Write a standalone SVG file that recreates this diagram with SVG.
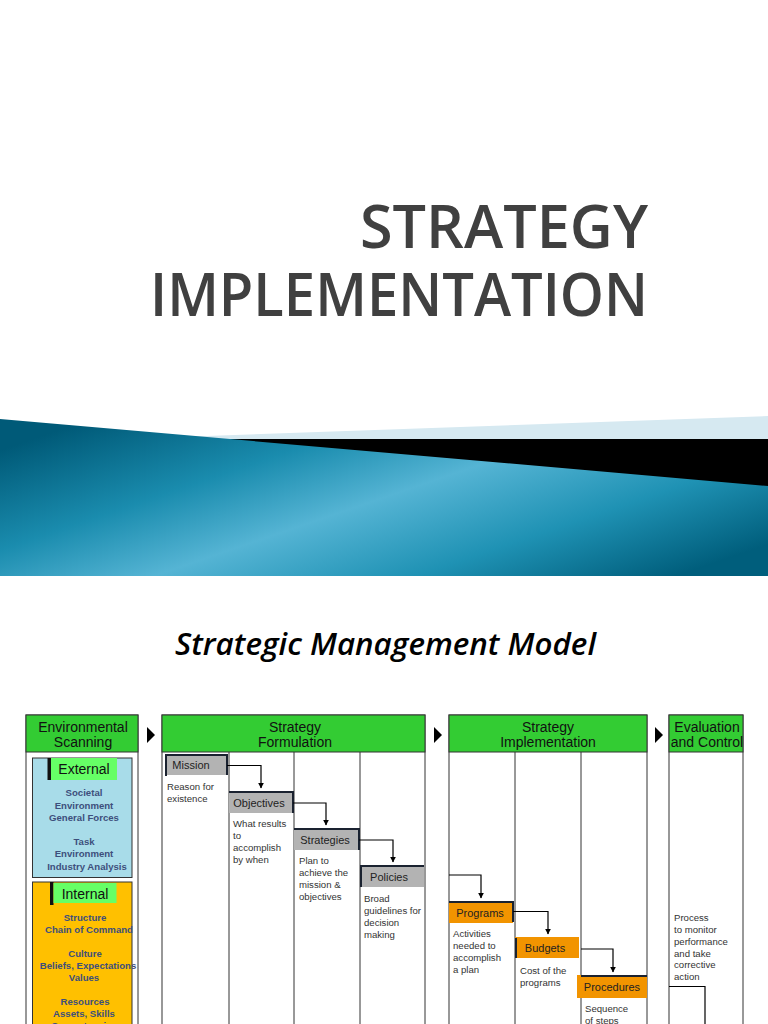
<svg xmlns="http://www.w3.org/2000/svg" width="768" height="1024" viewBox="0 0 768 1024">
<defs>
<linearGradient id="teal" x1="0" y1="0.2" x2="1" y2="0.8">
<stop offset="0" stop-color="#005a78"/>
<stop offset="0.28" stop-color="#1a8cae"/>
<stop offset="0.5" stop-color="#55b4d4"/>
<stop offset="0.75" stop-color="#1f92b4"/>
<stop offset="1" stop-color="#005e7c"/>
</linearGradient>
<marker id="ah" viewBox="0 0 10 10" refX="9" refY="5" markerWidth="6" markerHeight="6" orient="auto" markerUnits="userSpaceOnUse">
<path d="M0,0 L10,5 L0,10 z" fill="#000"/>
</marker>
<style>
.hdr{fill:#33cc33;stroke:#333;stroke-width:1}
.col{fill:#fff;stroke:#333;stroke-width:1}
.ht{font-family:"Liberation Sans",Arial,sans-serif;font-size:14px;fill:#111;text-anchor:middle}
.lab{font-family:"Liberation Sans",Arial,sans-serif;font-size:11px;fill:#222;text-anchor:middle}
.desc{font-family:"Liberation Sans",Arial,sans-serif;font-size:9.6px;fill:#333}
.env{font-family:"Liberation Sans",Arial,sans-serif;font-size:9.6px;font-weight:bold;fill:#3d4f7c;text-anchor:middle}
.gray{fill:#b3b3b3}
.org{fill:#f29400}
.edge{fill:none;stroke:#1a2230;stroke-width:2}
.conn{fill:none;stroke:#000;stroke-width:1.2}
.tri{fill:#000}
.green2{fill:#66ff66}
.title{font-family:"Open Sans","Noto Sans",sans-serif;font-size:60px;font-weight:600;fill:#404040}
</style>
</defs>
<rect width="768" height="1024" fill="#fff"/>

<!-- title -->
<text class="title" x="648" y="248" text-anchor="end" textLength="288" lengthAdjust="spacingAndGlyphs">STRATEGY</text>
<text class="title" x="150" y="316" textLength="498" lengthAdjust="spacingAndGlyphs">IMPLEMENTATION</text>

<!-- banner -->
<polygon points="150,438 768,416 768,440 150,440" fill="#d6e9f1"/>
<rect x="150" y="439" width="618" height="60" fill="#000"/>
<polygon points="0,419 768,486 768,576 0,576" fill="url(#teal)"/>

<text x="175" y="655" font-family="'Open Sans','Noto Sans',sans-serif" font-style="italic" font-weight="600" font-size="30" fill="#000" textLength="421" lengthAdjust="spacingAndGlyphs">Strategic Management Model</text>

<!-- Environmental Scanning -->
<g id="env-scanning">
<rect class="col" x="26" y="715" width="112" height="320"/>
<rect class="hdr" x="26" y="715" width="112" height="37"/>
<text class="ht" x="83" y="732">Environmental</text>
<text class="ht" x="83" y="747">Scanning</text>
</g>
<g id="external">
<rect x="32.5" y="758" width="99.5" height="119.5" fill="#a8dce9" stroke="#333" stroke-width="1"/>
<rect x="47.5" y="758" width="3.5" height="22" fill="#111"/>
<rect class="green2" x="51" y="758" width="66" height="22"/>
<text x="84" y="774" font-family="'Liberation Sans',Arial,sans-serif" font-size="14" fill="#111" text-anchor="middle">External</text>
<text class="env" x="84" y="796">Societal</text>
<text class="env" x="84" y="809">Environment</text>
<text class="env" x="84" y="821">General Forces</text>
<text class="env" x="84" y="845">Task</text>
<text class="env" x="84" y="857">Environment</text>
<text class="env" x="87" y="870">Industry Analysis</text>
</g>
<g id="internal">
<rect x="32.5" y="882" width="99.5" height="150" fill="#ffc000" stroke="#333" stroke-width="1"/>
<rect x="50" y="882" width="3.5" height="23" fill="#111"/>
<rect class="green2" x="53.5" y="883" width="63" height="20"/>
<text x="85" y="899" font-family="'Liberation Sans',Arial,sans-serif" font-size="14" fill="#111" text-anchor="middle">Internal</text>
<text class="env" x="85" y="921">Structure</text>
<text class="env" x="89" y="933">Chain of Command</text>
<text class="env" x="85" y="957">Culture</text>
<text class="env" x="88" y="969">Beliefs, Expectations</text>
<text class="env" x="84" y="981">Values</text>
<text class="env" x="85" y="1005">Resources</text>
<text class="env" x="84" y="1017">Assets, Skills</text>
<text class="env" x="84" y="1029">Competencies</text>
</g>

<!-- Strategy Formulation -->
<g id="strategy-formulation">
<rect class="col" x="162" y="715" width="263" height="320"/>
<line x1="229" y1="752" x2="229" y2="1024" stroke="#333"/>
<line x1="294" y1="752" x2="294" y2="1024" stroke="#333"/>
<line x1="360" y1="752" x2="360" y2="1024" stroke="#333"/>
<rect class="hdr" x="162" y="715" width="263" height="37"/>
<text class="ht" x="295" y="732">Strategy</text>
<text class="ht" x="295" y="747">Formulation</text>
</g>
<g id="mission">
<rect class="gray" x="165" y="754" width="62" height="21"/>
<path class="edge" d="M166,776 V755 H227 V775"/>
<text class="lab" x="191" y="769">Mission</text>
<text class="desc" x="167" y="790">Reason for</text>
<text class="desc" x="167" y="802">existence</text>
</g>
<g id="objectives">
<rect class="gray" x="229" y="791" width="64" height="22"/>
<path class="edge" d="M229,792 H293 V813"/>
<text class="lab" x="259" y="807">Objectives</text>
<text class="desc" x="233" y="827">What results</text>
<text class="desc" x="233" y="839">to</text>
<text class="desc" x="233" y="851">accomplish</text>
<text class="desc" x="233" y="863">by when</text>
</g>
<g id="strategies">
<rect class="gray" x="294" y="828" width="65" height="22"/>
<path class="edge" d="M294,829 H359 V850"/>
<text class="lab" x="325" y="844">Strategies</text>
<text class="desc" x="299" y="864">Plan to</text>
<text class="desc" x="299" y="876">achieve the</text>
<text class="desc" x="299" y="888">mission &amp;</text>
<text class="desc" x="299" y="900">objectives</text>
</g>
<g id="policies">
<rect class="gray" x="361" y="865" width="63" height="22"/>
<path class="edge" d="M361,887 V866 H424"/>
<text class="lab" x="389" y="881">Policies</text>
<text class="desc" x="364" y="902">Broad</text>
<text class="desc" x="364" y="914">guidelines for</text>
<text class="desc" x="364" y="926">decision</text>
<text class="desc" x="364" y="938">making</text>
</g>

<!-- Strategy Implementation -->
<g id="strategy-implementation">
<rect class="col" x="449" y="715" width="198" height="320"/>
<line x1="515" y1="752" x2="515" y2="1024" stroke="#333"/>
<line x1="581" y1="752" x2="581" y2="1024" stroke="#333"/>
<rect class="hdr" x="449" y="715" width="198" height="37"/>
<text class="ht" x="548" y="732">Strategy</text>
<text class="ht" x="548" y="747">Implementation</text>
</g>
<g id="programs">
<rect class="org" x="449" y="901" width="64" height="22"/>
<path class="edge" d="M449,902 H513 V922"/>
<text class="lab" x="480" y="917">Programs</text>
<text class="desc" x="453" y="937">Activities</text>
<text class="desc" x="453" y="949">needed to</text>
<text class="desc" x="453" y="961">accomplish</text>
<text class="desc" x="453" y="973">a plan</text>
</g>
<g id="budgets">
<rect class="org" x="515" y="937" width="64" height="21"/>
<path class="edge" d="M516,958 V938"/>
<text class="lab" x="545" y="952">Budgets</text>
<text class="desc" x="520" y="974">Cost of the</text>
<text class="desc" x="520" y="986">programs</text>
</g>
<g id="procedures">
<rect class="org" x="577" y="975" width="70" height="23"/>
<path class="edge" d="M581,976 H647"/>
<text class="lab" x="612" y="991">Procedures</text>
<text class="desc" x="585" y="1012">Sequence</text>
<text class="desc" x="585" y="1024">of steps</text>
</g>

<!-- Evaluation and Control -->
<g id="evaluation-control">
<rect class="col" x="669" y="715" width="74" height="320"/>
<rect class="hdr" x="669" y="715" width="74" height="37"/>
<text class="ht" x="707" y="732">Evaluation</text>
<text class="ht" x="707" y="747">and Control</text>
<text class="desc" x="674" y="921">Process</text>
<text class="desc" x="674" y="933">to monitor</text>
<text class="desc" x="674" y="945">performance</text>
<text class="desc" x="674" y="957">and take</text>
<text class="desc" x="674" y="968">corrective</text>
<text class="desc" x="674" y="980">action</text>
</g>

<!-- connectors -->
<g id="connectors">
<polygon class="tri" points="147,727 155,735 147,743"/>
<polygon class="tri" points="434,727 442,735 434,743"/>
<polygon class="tri" points="655,727 663,735 655,743"/>
<path class="conn" d="M227,765.5 H261 V788" marker-end="url(#ah)"/>
<path class="conn" d="M293,803 H326 V825" marker-end="url(#ah)"/>
<path class="conn" d="M359,840 H393 V862" marker-end="url(#ah)"/>
<path class="conn" d="M449,875 H481 V898" marker-end="url(#ah)"/>
<path class="conn" d="M513,911.5 H548 V934" marker-end="url(#ah)"/>
<path class="conn" d="M581,949 H613 V972" marker-end="url(#ah)"/>
<path class="conn" d="M669,986.5 H705 V1030"/>
</g>
</svg>
